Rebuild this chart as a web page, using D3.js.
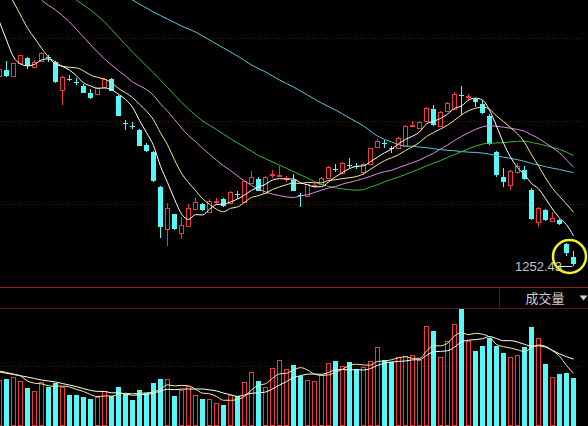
<!DOCTYPE html>
<html>
<head>
<meta charset="utf-8">
<script src="https://d3js.org/d3.v7.min.js"></script>
<style>
  html, body { margin: 0; padding: 0; background: #000; }
  #chart { width: 588px; height: 426px; }
</style>
</head>
<body>
<div id="chart"></div>
<script>

// daily candles (price)
const opens = [1442.5, 1448.5, 1442, 1455, 1461, 1451, 1457.5, 1461.5, 1456.5, 1428.5,
    1439.5, 1437, 1432.5, 1426, 1424.5, 1431.5, 1439.5, 1422.8, 1396, 1392.5,
    1389, 1373.5, 1366.5, 1331.5, 1289.2, 1304.2, 1285, 1292, 1309.5, 1314.5,
    1306.5, 1317, 1319.5, 1315.5, 1324.5, 1316.5, 1335.5, 1340, 1325.5, 1344,
    1343, 1339.5, 1338.5, 1324, 1322.5, 1332.5, 1334.5, 1340, 1350, 1345.5,
    1354, 1353, 1346, 1354.5, 1371.5, 1376, 1371, 1370.5, 1372, 1393,
    1390.5, 1397.5, 1409.5, 1392.5, 1407.5, 1409.5, 1424, 1421.5, 1419.5, 1415,
    1402.5, 1366.5, 1342, 1333.5, 1346, 1348.5, 1329, 1296.5, 1308.5, 1297,
    1298.5, 1274.5, 1261.5];
const closes = [1449.5, 1442.5, 1455, 1463.5, 1452.8, 1456.5, 1465, 1460.5, 1436.5, 1441.5,
    1438.5, 1436, 1426, 1421, 1430, 1439.5, 1428, 1402.8, 1395, 1391.5,
    1373, 1367.5, 1337.5, 1292, 1310.2, 1289.5, 1293.5, 1310, 1316.2, 1308.5,
    1317.5, 1317.5, 1312.5, 1326.5, 1323.5, 1336.8, 1341.5, 1328, 1341.5, 1344.5,
    1343.5, 1340, 1328, 1323, 1334, 1333.5, 1340.5, 1351.5, 1349, 1355.5,
    1353, 1352, 1354, 1370, 1377.5, 1375, 1370, 1380.5, 1392.5, 1393.5,
    1396, 1410.5, 1393.5, 1406.5, 1415.5, 1424.5, 1423, 1422, 1417, 1405.5,
    1374.5, 1343.5, 1336.5, 1347.5, 1352.5, 1339.5, 1299.2, 1310, 1298.5, 1300,
    1294.5, 1266, 1254.5];
const highs = [1450.5, 1457.5, 1455.5, 1463.5, 1461.5, 1458.5, 1466.5, 1463.5, 1457.5, 1442.5,
    1443.5, 1441, 1434.5, 1429.5, 1430.5, 1440.5, 1440.5, 1423.5, 1398.5, 1397,
    1389.5, 1375.5, 1367.8, 1332.5, 1315.5, 1304.5, 1302, 1315, 1320.5, 1315.5,
    1319.5, 1321, 1320.5, 1327.5, 1327.5, 1337.5, 1348, 1341.5, 1342.5, 1348.5,
    1352.5, 1342.5, 1345, 1325.5, 1334.5, 1335.5, 1341.5, 1352.5, 1354.5, 1356.5,
    1360.5, 1355.5, 1355.5, 1371, 1379.5, 1378.5, 1372.5, 1381.5, 1393.5, 1397.5,
    1397.5, 1411.5, 1413.5, 1407.5, 1416.5, 1426.5, 1432.5, 1424.5, 1420.5, 1418.5,
    1404.5, 1367.5, 1350.5, 1348.5, 1355.5, 1352.5, 1330.5, 1311.5, 1309.5, 1306.8,
    1299.5, 1275.5, 1267.5];
const lows = [1441.5, 1441.5, 1441.5, 1454.5, 1450, 1450.5, 1456.5, 1456.5, 1435.5, 1413.5,
    1437.5, 1433.5, 1425.5, 1419.5, 1423.5, 1430.5, 1427.5, 1402.5, 1388.5, 1389.5,
    1372.5, 1366.5, 1336.5, 1280.5, 1272.5, 1288.5, 1279.5, 1291.5, 1308.5, 1307.5,
    1305.5, 1314.5, 1311.5, 1314.5, 1319.5, 1315.5, 1334.5, 1327.5, 1324.5, 1340.5,
    1341.5, 1336.5, 1327.5, 1311.5, 1321.5, 1330.5, 1333.5, 1339.5, 1346.5, 1344.5,
    1350.5, 1349.5, 1343.5, 1353.5, 1370.5, 1371, 1365.5, 1369.5, 1371.5, 1391.5,
    1389.5, 1396.5, 1392.5, 1391.5, 1406.5, 1408.5, 1403.5, 1418.5, 1411.5, 1404.5,
    1373.5, 1341.5, 1331.5, 1328.5, 1344.5, 1338.5, 1298.5, 1291.5, 1297.5, 1296.5,
    1293.5, 1263, 1252.43];

// 成交量
const volumes = [92, 94, 97.4, 90, 76.6, 70, 87.4, 78.6, 85.4, 77.4,
    62, 62, 58.6, 54, 57.4, 68.6, 60, 77.4, 64, 52,
    72, 66.6, 85.4, 94, 94, 60.6, 72, 80, 62, 54,
    54, 45.4, 42, 62, 60.6, 87.4, 107.4, 90, 76.6, 115.4,
    132, 113.4, 122, 100.6, 92, 90, 102, 125.4, 130, 120,
    128.6, 114, 117.4, 128.6, 157.4, 132, 127.4, 136.6, 138.6, 142,
    132, 200, 190, 137.4, 168.6, 204, 233.4, 170, 150.6, 160,
    175.4, 160.6, 146.6, 137.4, 142, 157.4, 198, 175.4, 124, 97.4,
    103.4, 105.4, 96.6];

// moving average values before the window is full, [day, value]
const ma5Lead = [[0, 1496.5], [1, 1478.5], [2, 1461.5], [3, 1454.5]];
const ma10Lead = [[1, 1528.5], [2, 1516.5], [3, 1503.5], [4, 1490.5], [5, 1480.5],
    [6, 1470.5], [7, 1461.5], [8, 1456.5]];
const ma20Lead = [[5, 1526.5], [6, 1518.5], [8, 1508.5], [10, 1496.5], [12, 1481.5],
    [14, 1466.5], [16, 1453.5], [18, 1442.5]];
const ma30Lead = [[10, 1524.5], [11, 1518.5], [13, 1508.5], [15, 1496.5], [17, 1481.5],
    [19, 1466.5], [21, 1452.5], [23, 1438.5], [25, 1423.5], [27, 1409.5]];
const ma60Lead = [[18, 1522.5], [20, 1514.5], [22, 1506.5], [24, 1499.5], [26, 1492.5],
    [28, 1486.5], [30, 1478.5], [32, 1470.5], [34, 1462.5], [36, 1453.5], [38, 1446.5],
    [40, 1438.5], [42, 1431.5], [44, 1423.5], [46, 1415.5], [48, 1408.5], [50, 1400.5],
    [52, 1392.5], [54, 1382.5], [56, 1376.5], [58, 1372.5]];
const volMa5Lead = [[0, 110], [1, 107], [2, 104], [3, 100]];
const volMa10Lead = [[0, 108], [2, 103], [4, 98], [6, 92], [8, 88]];

const priceGrid = [1480.5, 1397.5, 1314.5];
const volumeGrid = [120];
const panelLabel = "成交量";


const W = 588, H = 426;
const up = "#ee3a3a", down = "#54f8f8";

const svg = d3.select("#chart").append("svg")
    .attr("width", W)
    .attr("height", H);

svg.append("rect").attr("width", W).attr("height", H).attr("fill", "#000");

// scales
const x = d3.scaleLinear().domain([0, closes.length - 1]).range([-1, 573]);
const cx = i => x(i) + 0.5;
const y = d3.scaleLinear().domain([1231.5, 1518.5]).range([287, 0]);
const yv = d3.scaleLinear().domain([0, 240]).range([426, 306]);

const defs = svg.append("defs");
defs.append("clipPath").attr("id", "clipPrice")
    .append("rect").attr("x", 0).attr("y", 0).attr("width", W).attr("height", 286);
defs.append("clipPath").attr("id", "clipVol")
    .append("rect").attr("x", 0).attr("y", 309).attr("width", W).attr("height", H - 309);

// grid and frame
svg.selectAll(".pgrid").data(priceGrid).enter().append("line")
    .attr("x1", 0).attr("x2", W)
    .attr("y1", d => Math.round(y(d)) + 0.5).attr("y2", d => Math.round(y(d)) + 0.5)
    .attr("stroke", "#5a1010").attr("stroke-dasharray", "1,2");
svg.selectAll(".vgrid").data(volumeGrid).enter().append("line")
    .attr("x1", 0).attr("x2", W)
    .attr("y1", d => Math.round(yv(d)) + 0.5).attr("y2", d => Math.round(yv(d)) + 0.5)
    .attr("stroke", "#5a1010").attr("stroke-dasharray", "1,2");

svg.append("line").attr("x1", 0).attr("x2", W).attr("y1", 287.5).attr("y2", 287.5)
    .attr("stroke", "#9a1c1c");
svg.append("line").attr("x1", 0).attr("x2", W).attr("y1", 308.5).attr("y2", 308.5)
    .attr("stroke", "#5e1414");
svg.append("line").attr("x1", 499.5).attr("x2", 499.5).attr("y1", 288).attr("y2", 308)
    .attr("stroke", "#5e1414");

svg.append("text")
    .attr("x", 545).attr("y", 303)
    .attr("text-anchor", "middle")
    .attr("font-family", "'Noto Sans CJK SC', sans-serif")
    .attr("font-size", 13)
    .attr("fill", "#cfcfcf")
    .text(panelLabel);
svg.append("path")
    .attr("d", "M579.5,295.5 L587.5,295.5 L583.5,300.5 Z")
    .attr("fill", "#cfcfcf");

// candles
const days = d3.range(closes.length);
const gCandle = svg.append("g").attr("clip-path", "url(#clipPrice)")
    .attr("shape-rendering", "crispEdges");

days.forEach(i => {
    const rise = closes[i] >= opens[i];
    const col = rise ? up : down;
    const top = y(Math.max(opens[i], closes[i]));
    const bot = y(Math.min(opens[i], closes[i]));
    gCandle.append("line")
        .attr("x1", cx(i)).attr("x2", cx(i))
        .attr("y1", y(highs[i])).attr("y2", y(lows[i]))
        .attr("stroke", col);
    if (rise) {
        gCandle.append("rect")
            .attr("x", cx(i) - 2).attr("width", 4)
            .attr("y", top).attr("height", Math.max(1, bot - top))
            .attr("fill", "#000").attr("stroke", col);
    } else {
        gCandle.append("rect")
            .attr("x", cx(i) - 2.5).attr("width", 5)
            .attr("y", top).attr("height", Math.max(1, bot - top))
            .attr("fill", col);
    }
});

// moving averages
function movingAvg(vals, n, lead) {
    let pts = lead.map(d => ({i: d[0], v: d[1]}));
    for (let i = n - 1; i < vals.length; i++) {
        pts.push({i: i, v: d3.mean(vals.slice(i - n + 1, i + 1))});
    }
    return pts;
}

const priceLine = d3.line().x(d => cx(d.i)).y(d => y(d.v)).curve(d3.curveMonotoneX);
const volLine = d3.line().x(d => cx(d.i)).y(d => yv(d.v)).curve(d3.curveMonotoneX);

const gMa = svg.append("g").attr("clip-path", "url(#clipPrice)");
[
    {n: 60, lead: ma60Lead, color: "#5ec4d8"},
    {n: 30, lead: ma30Lead, color: "#3fb53f"},
    {n: 20, lead: ma20Lead, color: "#e08ee0"},
    {n: 10, lead: ma10Lead, color: "#f0ee90"},
    {n: 5, lead: ma5Lead, color: "#ffffff"}
].forEach(m => {
    gMa.append("path")
        .datum(movingAvg(closes, m.n, m.lead))
        .attr("d", priceLine)
        .attr("fill", "none")
        .attr("stroke", m.color)
        .attr("stroke-width", 1);
});

// volume bars
const gVol = svg.append("g").attr("clip-path", "url(#clipVol)")
    .attr("shape-rendering", "crispEdges");
days.forEach(i => {
    const rise = closes[i] >= opens[i];
    if (rise) {
        gVol.append("rect")
            .attr("x", cx(i) - 2).attr("width", 4)
            .attr("y", yv(volumes[i])).attr("height", yv(0) - 1 - yv(volumes[i]))
            .attr("fill", "none").attr("stroke", up);
    } else {
        gVol.append("rect")
            .attr("x", cx(i) - 2.5).attr("width", 5)
            .attr("y", yv(volumes[i])).attr("height", yv(0) - yv(volumes[i]))
            .attr("fill", down);
    }
});

const gVolMa = svg.append("g").attr("clip-path", "url(#clipVol)");
[
    {n: 10, lead: volMa10Lead, color: "#ffffff"},
    {n: 5, lead: volMa5Lead, color: "#f2eea0"}
].forEach(m => {
    gVolMa.append("path")
        .datum(movingAvg(volumes, m.n, m.lead))
        .attr("d", volLine)
        .attr("fill", "none")
        .attr("stroke", m.color)
        .attr("stroke-width", 1);
});

// lowest price marker
const lowIdx = d3.minIndex(lows);
const lowY = Math.round(y(lows[lowIdx])) + 0.5;
svg.append("text")
    .attr("x", 515).attr("y", lowY + 4.5)
    .attr("font-family", "'Liberation Sans', Arial, sans-serif")
    .attr("font-size", 13)
    .attr("fill", "#c4c4c4")
    .text(d3.format(".2f")(lows[lowIdx]));
svg.append("line")
    .attr("x1", 558).attr("x2", cx(lowIdx) - 1)
    .attr("y1", lowY).attr("y2", lowY)
    .attr("stroke", "#e0e0e0");

// highlight circle round the last two days
const ringY = (y(highs[lowIdx - 1]) + y(lows[lowIdx])) / 2 + 2;
svg.append("circle")
    .attr("cx", x(lowIdx - 0.5))
    .attr("cy", ringY)
    .attr("r", 16.5)
    .attr("fill", "none")
    .attr("stroke", "#f2f01e")
    .attr("stroke-width", 2.5);

</script>
</body>
</html>
